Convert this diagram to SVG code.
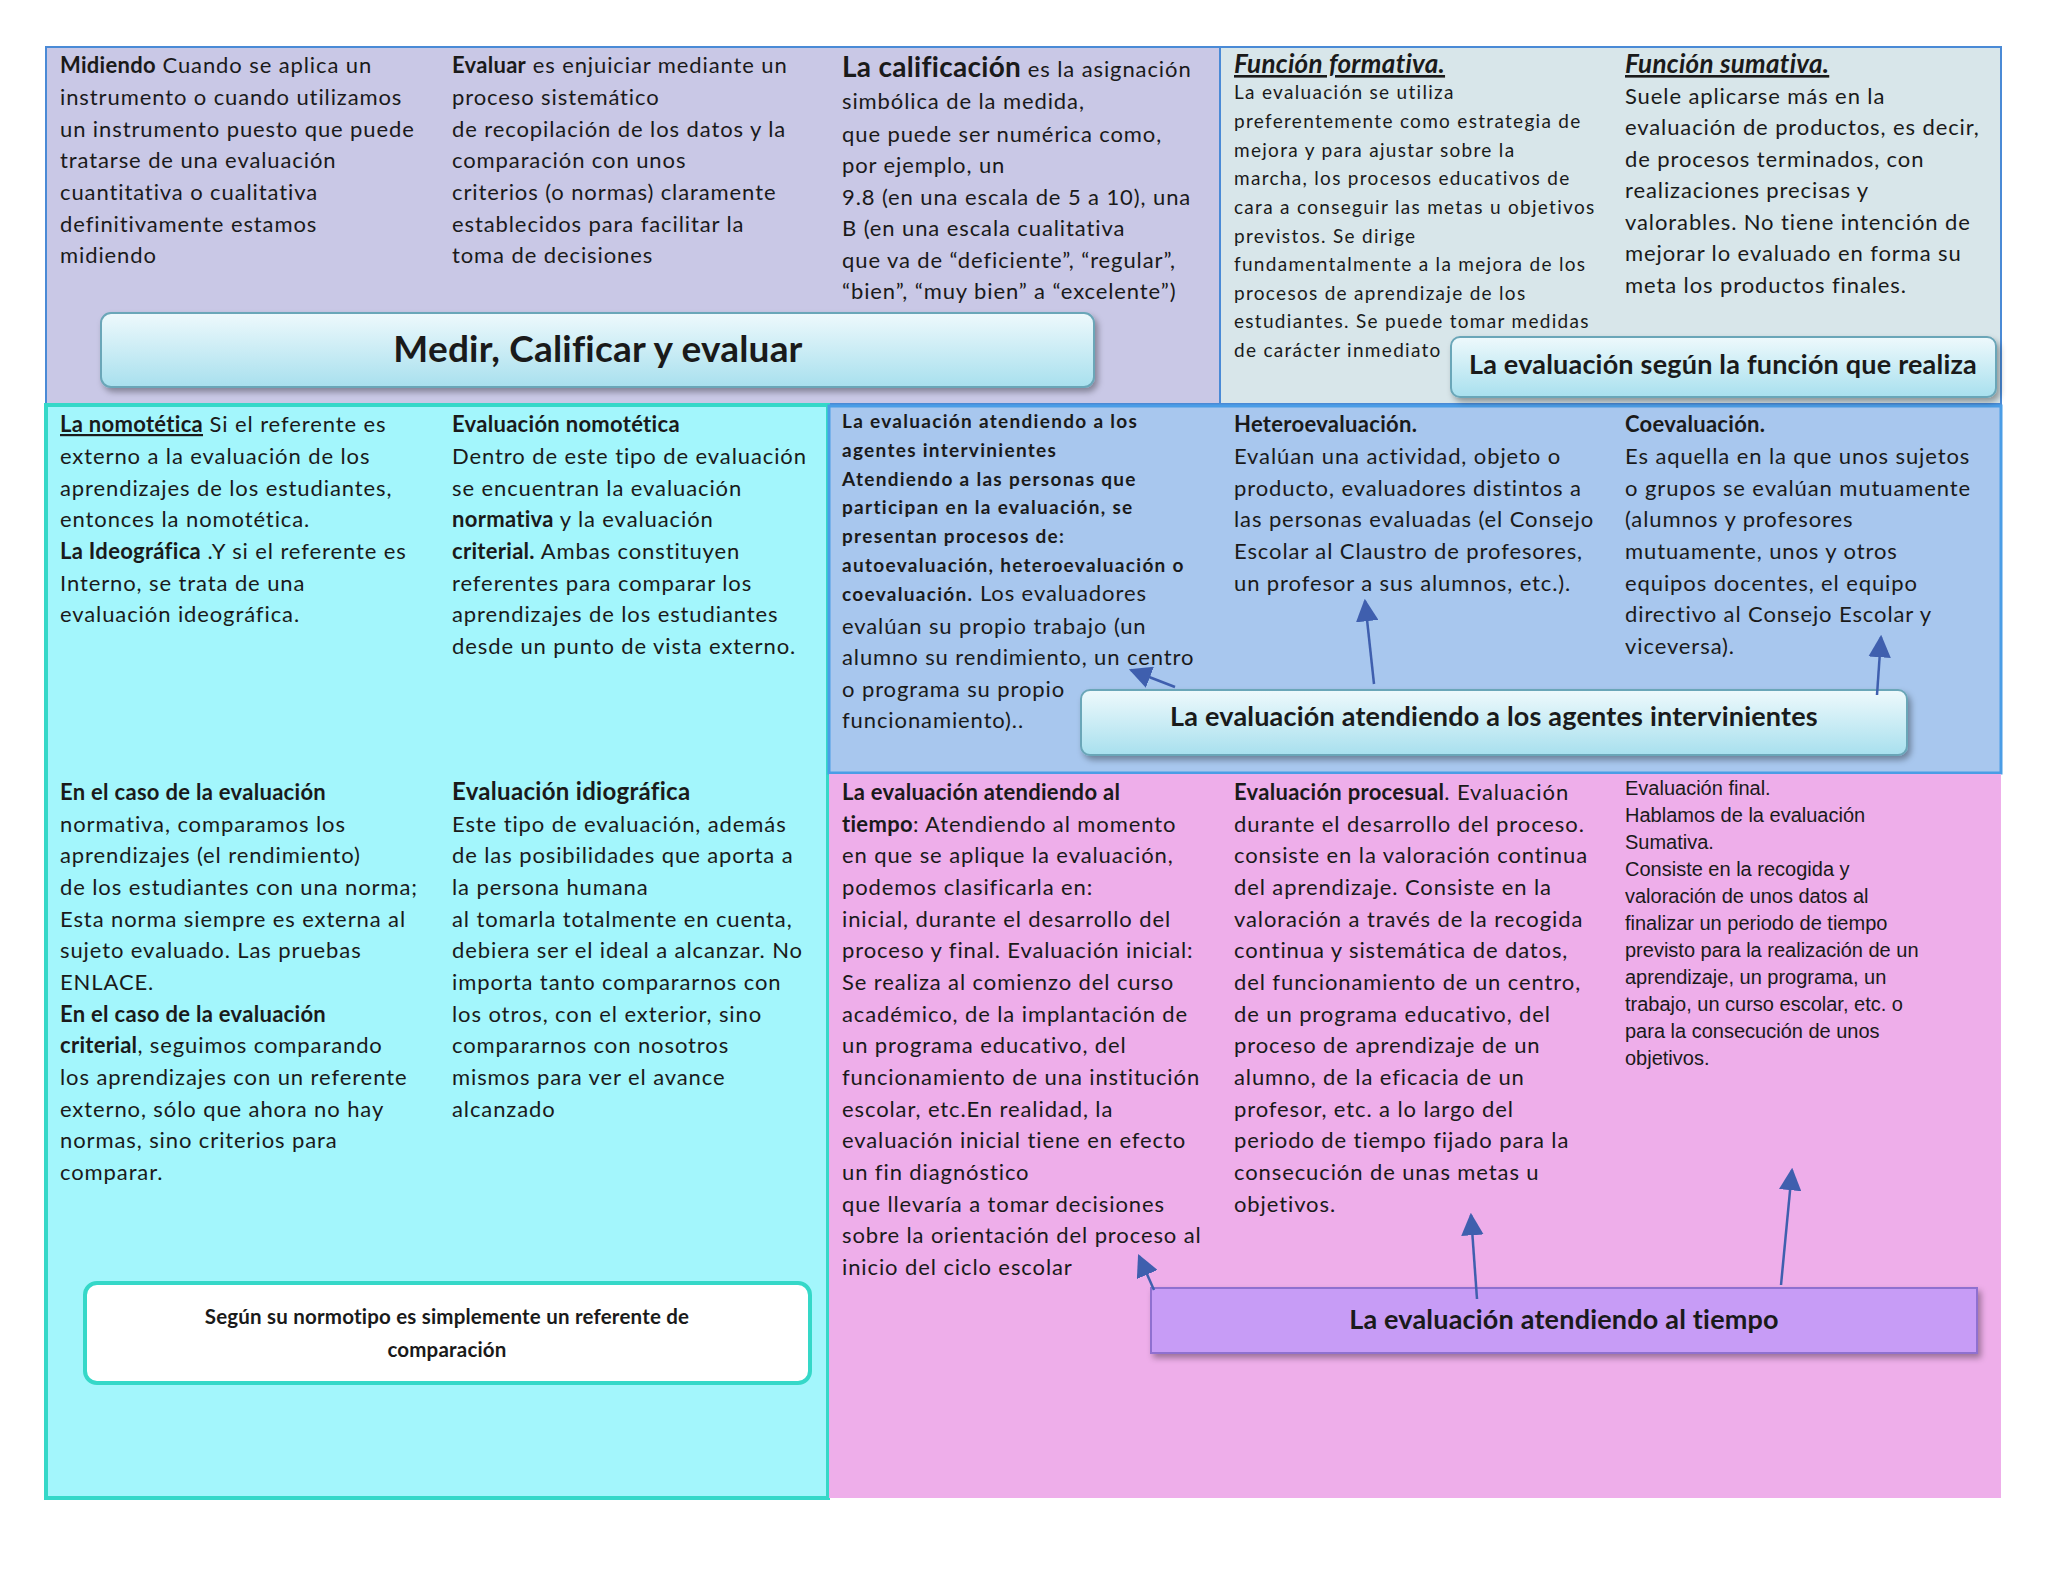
<svg xmlns="http://www.w3.org/2000/svg" width="2048" height="1582" viewBox="0 0 2048 1582">
<defs>
<linearGradient id="gb" x1="0" y1="0" x2="0" y2="1"><stop offset="0" stop-color="#eef9fc"/><stop offset="1" stop-color="#a8e0ee"/></linearGradient>
<filter id="sh" x="-5%" y="-20%" width="110%" height="150%"><feDropShadow dx="3" dy="4" stdDeviation="3" flood-color="#000" flood-opacity="0.35"/></filter>
<marker id="ar" viewBox="0 0 10 10" refX="9" refY="5" markerWidth="9" markerHeight="9" orient="auto"><path d="M0,0 L10,5 L0,10 z" fill="#3f5fae"/></marker>
<style>
text{font-family:Lato,"Open Sans",sans-serif;font-size:22px;letter-spacing:0.9px;fill:#1a1a1a}
.b{font-weight:bold;letter-spacing:0.3px}
.s{font-size:19px;letter-spacing:1.3px}
.a{font-family:"Liberation Sans",Arial,sans-serif;font-size:20px;letter-spacing:0}
.h{font-size:26px;font-weight:bold;font-style:italic;text-decoration:underline;letter-spacing:0.3px}
.t{font-weight:bold;font-size:27px;text-anchor:middle;letter-spacing:0.2px}
.ln{stroke:#3f5fae;stroke-width:2.5;fill:none;marker-end:url(#ar)}
</style>
</defs>
<rect width="2048" height="1582" fill="#fff"/>
<g id="panels">
<rect x="46" y="47" width="1174" height="357" fill="#c9c8e6" stroke="#4a8ad6" stroke-width="2"/>
<rect x="1220" y="47" width="781" height="357" fill="#d8e6ea" stroke="#4a8ad6" stroke-width="2"/>
<rect x="46" y="405" width="782" height="1093" fill="#a3f6fc" stroke="#35d8c8" stroke-width="4"/>
<rect x="829" y="406" width="1172" height="367" fill="#a8c7ee" stroke="#4a9de6" stroke-width="3"/>
<rect x="829" y="774" width="1172" height="724" fill="#eeaeea"/>
</g>
<g id="t1">
<text x="60" y="73"><tspan class="b">Midiendo</tspan> Cuando se aplica un</text>
<text x="60" y="105">instrumento o cuando utilizamos</text>
<text x="60" y="137">un instrumento puesto que puede</text>
<text x="60" y="168">tratarse de una evaluación</text>
<text x="60" y="200">cuantitativa o cualitativa</text>
<text x="60" y="232">definitivamente estamos</text>
<text x="60" y="263">midiendo</text>
</g>
<g id="t2">
<text x="452" y="73"><tspan class="b">Evaluar</tspan> es enjuiciar mediante un</text>
<text x="452" y="105">proceso sistemático</text>
<text x="452" y="137">de recopilación de los datos y la</text>
<text x="452" y="168">comparación con unos</text>
<text x="452" y="200">criterios (o normas) claramente</text>
<text x="452" y="232">establecidos para facilitar la</text>
<text x="452" y="263">toma  de decisiones</text>
</g>
<g id="t3">
<text x="842" y="77"><tspan class="b" style="font-size:28px">La calificación</tspan> es la asignación</text>
<text x="842" y="109">simbólica de la medida,</text>
<text x="842" y="142">que puede ser numérica como,</text>
<text x="842" y="173">por ejemplo, un</text>
<text x="842" y="205">9.8 (en una escala de 5 a 10), una</text>
<text x="842" y="236">B (en una escala cualitativa</text>
<text x="842" y="268">que va de “deficiente”, “regular”,</text>
<text x="842" y="299">“bien”, “muy  bien” a “excelente”)</text>
</g>
<g id="medir"><rect x="101" y="313" width="993" height="74" rx="10" fill="url(#gb)" stroke="#6aa6b8" stroke-width="2" filter="url(#sh)"/><text class="t" x="598" y="362" style="font-size:37px">Medir, Calificar y evaluar</text></g>
<g id="t4">
<text class="h" x="1234" y="73">Función formativa.</text>
<text class="s" x="1234" y="99">La evaluación se utiliza</text>
<text class="s" x="1234" y="128">preferentemente como estrategia de</text>
<text class="s" x="1234" y="157">mejora y para ajustar sobre la</text>
<text class="s" x="1234" y="185">marcha, los procesos educativos de</text>
<text class="s" x="1234" y="214">cara a conseguir las metas u objetivos</text>
<text class="s" x="1234" y="243">previstos. Se dirige</text>
<text class="s" x="1234" y="271">fundamentalmente a la mejora de los</text>
<text class="s" x="1234" y="300">procesos de aprendizaje de los</text>
<text class="s" x="1234" y="328">estudiantes. Se puede tomar medidas</text>
<text class="s" x="1234" y="357">de carácter inmediato</text>
</g>
<g id="t5">
<text class="h" x="1625" y="73">Función sumativa.</text>
<text x="1625" y="104">Suele aplicarse más en la</text>
<text x="1625" y="135">evaluación de productos, es decir,</text>
<text x="1625" y="167">de procesos terminados, con</text>
<text x="1625" y="198">realizaciones precisas y</text>
<text x="1625" y="230">valorables. No tiene intención de</text>
<text x="1625" y="261">mejorar lo evaluado en  forma su</text>
<text x="1625" y="293">meta  los productos finales.</text>
</g>
<g id="funcion"><rect x="1451" y="337" width="545" height="60" rx="9" fill="url(#gb)" stroke="#6aa6b8" stroke-width="2" filter="url(#sh)"/><text class="t" x="1723" y="374">La evaluación según la función que realiza</text></g>
<g id="t6">
<text x="60" y="432"><tspan class="b" text-decoration="underline">La nomotética</tspan> Si el referente  es</text>
<text x="60" y="464">externo a la evaluación de los</text>
<text x="60" y="496">aprendizajes de los estudiantes,</text>
<text x="60" y="527">entonces la nomotética.</text>
<text x="60" y="559"> <tspan class="b">La Ideográfica</tspan>  .Y si el referente  es</text>
<text x="60" y="591">Interno, se trata de una</text>
<text x="60" y="622">evaluación ideográfica.</text>
</g>
<g id="t7">
<text x="452" y="432" class="b">Evaluación  nomotética</text>
<text x="452" y="464">Dentro de este tipo de evaluación</text>
<text x="452" y="496">se encuentran la evaluación</text>
<text x="452" y="527"><tspan class="b">normativa</tspan> y la evaluación</text>
<text x="452" y="559"><tspan class="b">criterial.</tspan> Ambas constituyen</text>
<text x="452" y="591">referentes  para comparar los</text>
<text x="452" y="622">aprendizajes de los estudiantes</text>
<text x="452" y="654">desde un punto de vista externo.</text>
</g>
<g id="t8">
<text x="60" y="800" class="b">En el caso de la evaluación</text>
<text x="60" y="832">normativa, comparamos los</text>
<text x="60" y="863">aprendizajes (el rendimiento)</text>
<text x="60" y="895">de los estudiantes con una norma;</text>
<text x="60" y="927">Esta norma siempre es externa  al</text>
<text x="60" y="958">sujeto evaluado. Las pruebas</text>
<text x="60" y="990">ENLACE.</text>
<text x="60" y="1022" class="b">En el caso de la evaluación</text>
<text x="60" y="1053"><tspan class="b">criterial</tspan>, seguimos comparando</text>
<text x="60" y="1085">los aprendizajes con un referente</text>
<text x="60" y="1117">externo,  sólo que ahora no hay</text>
<text x="60" y="1148">normas, sino criterios para</text>
<text x="60" y="1180">comparar.</text>
</g>
<g id="t9">
<text x="452" y="800" class="b" style="font-size:24px">Evaluación idiográfica</text>
<text x="452" y="832">Este tipo de evaluación, además</text>
<text x="452" y="863">de las posibilidades que aporta a</text>
<text x="452" y="895">la persona humana</text>
<text x="452" y="927">al tomarla totalmente en cuenta,</text>
<text x="452" y="958">debiera ser el ideal a alcanzar. No</text>
<text x="452" y="990">importa tanto compararnos con</text>
<text x="452" y="1022">los otros, con el exterior, sino</text>
<text x="452" y="1053">compararnos con nosotros</text>
<text x="452" y="1085">mismos para ver el avance</text>
<text x="452" y="1117">alcanzado</text>
</g>
<g id="normotipo"><rect x="85" y="1283" width="725" height="100" rx="12" fill="#fff" stroke="#35d8c8" stroke-width="4"/><text class="t" x="447" y="1324" style="font-size:20.5px">Según su normotipo es simplemente un referente de</text><text class="t" x="447" y="1357" style="font-size:20.5px">comparación</text></g>
<g id="t10">
<text class="s b" x="842" y="428">La evaluación atendiendo  a los</text>
<text class="s b" x="842" y="457">agentes intervinientes</text>
<text class="s b" x="842" y="486">Atendiendo  a las personas que</text>
<text class="s b" x="842" y="514">participan en la evaluación, se</text>
<text class="s b" x="842" y="543">presentan procesos de:</text>
<text class="s b" x="842" y="572">autoevaluación,  heteroevaluación  o</text>
<text x="842" y="601"><tspan class="b s">coevaluación.</tspan> Los evaluadores</text>
<text x="842" y="634">evalúan su propio trabajo (un</text>
<text x="842" y="665">alumno su rendimiento, un centro</text>
<text x="842" y="697">o programa su propio</text>
<text x="842" y="728">funcionamiento)..</text>
</g>
<g id="t11">
<text x="1234" y="432" class="b">Heteroevaluación.</text>
<text x="1234" y="464">Evalúan una actividad, objeto o</text>
<text x="1234" y="496">producto, evaluadores distintos a</text>
<text x="1234" y="527">las personas evaluadas (el Consejo</text>
<text x="1234" y="559">Escolar al Claustro de profesores,</text>
<text x="1234" y="591">un profesor a sus alumnos, etc.).</text>
</g>
<g id="t12">
<text x="1625" y="432" class="b">Coevaluación.</text>
<text x="1625" y="464">Es aquella en la que unos sujetos</text>
<text x="1625" y="496">o grupos se evalúan mutuamente</text>
<text x="1625" y="527">(alumnos y profesores</text>
<text x="1625" y="559">mutuamente,  unos y otros</text>
<text x="1625" y="591">equipos docentes,  el equipo</text>
<text x="1625" y="622">directivo al Consejo Escolar y</text>
<text x="1625" y="654">viceversa).</text>
</g>
<g id="agentes"><rect x="1081" y="690" width="826" height="65" rx="9" fill="url(#gb)" stroke="#6aa6b8" stroke-width="2" filter="url(#sh)"/><text class="t" x="1494" y="726">La evaluación atendiendo a los agentes intervinientes</text></g>
<g id="t13">
<text x="842" y="800"><tspan class="b">La evaluación  atendiendo al</tspan></text>
<text x="842" y="832"><tspan class="b">tiempo</tspan>: Atendiendo  al momento</text>
<text x="842" y="863">en que se aplique la evaluación,</text>
<text x="842" y="895">podemos  clasificarla en:</text>
<text x="842" y="927">inicial, durante el desarrollo del</text>
<text x="842" y="958">proceso y final. Evaluación inicial:</text>
<text x="842" y="990">Se realiza al comienzo del curso</text>
<text x="842" y="1022">académico, de la implantación de</text>
<text x="842" y="1053">un programa educativo, del</text>
<text x="842" y="1085">funcionamiento de una institución</text>
<text x="842" y="1117">escolar, etc.En realidad, la</text>
<text x="842" y="1148">evaluación inicial tiene en efecto</text>
<text x="842" y="1180">un fin diagnóstico</text>
<text x="842" y="1212">que llevaría a tomar decisiones</text>
<text x="842" y="1243">sobre la orientación del proceso al</text>
<text x="842" y="1275">inicio del ciclo escolar</text>
</g>
<g id="t14">
<text x="1234" y="800"><tspan class="b">Evaluación  procesual</tspan>.  Evaluación</text>
<text x="1234" y="832">durante el desarrollo del proceso.</text>
<text x="1234" y="863">consiste en la valoración continua</text>
<text x="1234" y="895">del aprendizaje. Consiste en la</text>
<text x="1234" y="927">valoración a través de la recogida</text>
<text x="1234" y="958">continua y sistemática de datos,</text>
<text x="1234" y="990">del funcionamiento de un centro,</text>
<text x="1234" y="1022">de un programa educativo, del</text>
<text x="1234" y="1053">proceso de aprendizaje de un</text>
<text x="1234" y="1085">alumno, de la eficacia de un</text>
<text x="1234" y="1117">profesor, etc.  a lo largo del</text>
<text x="1234" y="1148">periodo de tiempo fijado para la</text>
<text x="1234" y="1180">consecución de unas metas u</text>
<text x="1234" y="1212">objetivos.</text>
</g>
<g id="t15">
<text class="a" x="1625" y="795">Evaluación final.</text>
<text class="a" x="1625" y="822">Hablamos de la evaluación</text>
<text class="a" x="1625" y="849">Sumativa.</text>
<text class="a" x="1625" y="876">Consiste en la recogida y</text>
<text class="a" x="1625" y="903">valoración de unos datos al</text>
<text class="a" x="1625" y="930">finalizar un periodo de tiempo</text>
<text class="a" x="1625" y="957">previsto para la realización de un</text>
<text class="a" x="1625" y="984">aprendizaje, un programa, un</text>
<text class="a" x="1625" y="1011">trabajo, un curso escolar, etc. o</text>
<text class="a" x="1625" y="1038">para la consecución de unos</text>
<text class="a" x="1625" y="1065">objetivos.</text>
</g>
<g id="tiempo"><rect x="1151" y="1288" width="826" height="65" fill="#c79cf6" stroke="#8f6fd0" stroke-width="2" filter="url(#sh)"/><text class="t" x="1564" y="1329">La evaluación atendiendo al tiempo</text></g>
<g id="connectors">
<line class="ln" x1="1175" y1="687" x2="1131" y2="670"/>
<line class="ln" x1="1374" y1="684" x2="1365" y2="601"/>
<line class="ln" x1="1877" y1="695" x2="1881" y2="637"/>
<line class="ln" x1="1154" y1="1290" x2="1139" y2="1256"/>
<line class="ln" x1="1477" y1="1299" x2="1471" y2="1215"/>
<line class="ln" x1="1781" y1="1285" x2="1792" y2="1170"/>
</g>
</svg>
